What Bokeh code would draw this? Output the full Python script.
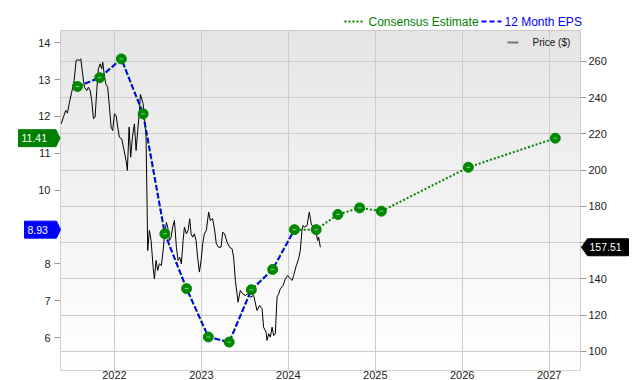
import numpy as np
from bokeh.plotting import figure
from bokeh.models import Range1d, LinearAxis, FixedTicker, Grid
from bokeh.core.properties import value
from bokeh.embed import file_html
from bokeh.resources import INLINE

# ---------------- data ----------------
years = [2022, 2023, 2024, 2025, 2026, 2027]
year_labels = ["2022", "2023", "2024", "2025", "2026", "2027"]
eps_ticks = [6, 7, 8, 9, 10, 11, 12, 13, 14]
price_ticks = [100, 120, 140, 160, 180, 200, 220, 240, 260]

# 12 Month EPS (historical)
eps_t = [2021.575, 2021.83, 2022.08, 2022.33, 2022.58, 2022.83, 2023.08,
         2023.32, 2023.575, 2023.82, 2024.07]
eps_v = [12.81, 13.05, 13.56, 12.07, 8.82, 7.33, 6.02, 5.88, 7.30, 7.85, 8.93]

# Consensus estimates (future)
est_t = [2024.32, 2024.57, 2024.82, 2025.07, 2026.07, 2027.07]
est_v = [8.93, 9.34, 9.52, 9.43, 10.62, 11.41]

# Price ($)
price_t = [2021.387, 2021.414, 2021.440, 2021.460, 2021.483, 2021.509, 2021.537, 2021.560,
           2021.578, 2021.598, 2021.613, 2021.632, 2021.655, 2021.682, 2021.701, 2021.721,
           2021.739, 2021.759, 2021.778, 2021.797, 2021.816, 2021.836, 2021.854, 2021.866,
           2021.882, 2021.900, 2021.923, 2021.943, 2021.962, 2021.980, 2022.000, 2022.020,
           2022.038, 2022.057, 2022.084, 2022.111, 2022.134, 2022.149, 2022.169, 2022.187,
           2022.207, 2022.230, 2022.249, 2022.268, 2022.287, 2022.299, 2022.330, 2022.345,
           2022.364, 2022.376, 2022.383, 2022.402, 2022.422, 2022.445, 2022.460, 2022.479,
           2022.498, 2022.517, 2022.540, 2022.560, 2022.578, 2022.598, 2022.613, 2022.632,
           2022.652, 2022.670, 2022.690, 2022.713, 2022.732, 2022.751, 2022.770, 2022.790,
           2022.805, 2022.828, 2022.847, 2022.866, 2022.882, 2022.900, 2022.920, 2022.939,
           2022.957, 2022.977, 2022.997, 2023.015, 2023.034, 2023.057, 2023.084, 2023.103,
           2023.130, 2023.153, 2023.172, 2023.199, 2023.226, 2023.245, 2023.268, 2023.295,
           2023.325, 2023.353, 2023.371, 2023.391, 2023.422, 2023.448, 2023.475, 2023.506,
           2023.532, 2023.563, 2023.601, 2023.640, 2023.670, 2023.698, 2023.716, 2023.744,
           2023.755, 2023.774, 2023.793, 2023.813, 2023.831, 2023.851, 2023.870, 2023.889,
           2023.908, 2023.939, 2023.966, 2023.992, 2024.023, 2024.043, 2024.061, 2024.092,
           2024.118, 2024.138, 2024.157, 2024.169, 2024.184, 2024.215, 2024.241, 2024.264,
           2024.291, 2024.322, 2024.337, 2024.349, 2024.368]
price_v = [225.6, 229.3, 233.0, 231.5, 237.5, 243.1, 249.5, 260.6,
           260.9, 260.6, 261.5, 254.1, 245.8, 244.0, 245.8, 244.0,
           238.5, 228.4, 229.3, 244.0, 256.0, 258.7, 256.0, 259.6,
           253.2, 247.7, 245.8, 234.8, 223.8, 221.9, 231.1, 230.2,
           223.8, 218.2, 217.4, 210.9, 205.4, 199.9, 223.8, 207.2,
           218.2, 225.6, 210.9, 221.9, 232.0, 241.8, 236.8, 229.3,
           218.2, 179.6, 155.7, 166.8, 161.2, 146.5, 140.1, 150.2,
           144.7, 148.4, 147.4, 155.7, 164.9, 171.3, 168.6, 161.2,
           163.1, 168.6, 172.3, 157.5, 150.2, 152.0, 148.4, 161.2,
           168.6, 164.9, 166.8, 173.2, 164.9, 163.1, 164.9, 161.2,
           152.0, 143.8, 150.2, 159.4, 164.9, 166.8, 176.9, 172.3,
           173.2, 166.8, 159.4, 157.5, 157.5, 165.8, 164.9, 160.3,
           157.5, 156.7, 152.0, 139.2, 127.2, 133.7, 131.8, 130.9,
           131.8, 130.0, 130.9, 122.6, 125.4, 123.6, 113.4, 110.6,
           106.1, 109.8, 107.9, 113.4, 108.8, 109.8, 130.0, 131.8,
           134.6, 136.4, 140.1, 141.9, 140.1, 139.2, 141.9, 147.4,
           151.1, 155.7, 166.8, 169.5, 168.6, 169.5, 176.9, 170.4,
           167.7, 164.9, 161.2, 163.1, 157.51]

# ---------------- figure ----------------
X0, X1 = 2021.38, 2027.36
Y0, Y1 = 5.11, 14.33
P0, P1 = 89.5, 277.1
FL, FT, FW, FH = 60.0, 30.0, 520.0, 340.0
FONT = "Liberation Sans"

p = figure(width=640, height=380, output_backend="svg", toolbar_location=None,
           x_range=Range1d(X0, X1), y_range=Range1d(Y0, Y1),
           x_axis_location=None,
           min_border_left=60, min_border_right=60, min_border_top=30, min_border_bottom=10)
p.extra_y_ranges = {"price": Range1d(P0, P1)}
p.background_fill_color = "white"
p.border_fill_color = "white"
p.outline_line_color = "#c4c4c4"
p.outline_line_width = 1
p.ygrid.visible = False

# gradient background
n = 256
frac = np.linspace(0.0, 1.0, n)
c = np.round(255 - frac * (255 - 229)).astype(np.uint8)
img = np.zeros((n, 1), dtype=np.uint32)
view = img.view(dtype=np.uint8).reshape((n, 1, 4))
view[:, 0, 0] = c
view[:, 0, 1] = c
view[:, 0, 2] = c
view[:, 0, 3] = 255
p.image_rgba(image=[img], x=X0, y=Y0, dw=X1 - X0, dh=Y1 - Y0, level="image")

# grids
p.add_layout(Grid(dimension=0, ticker=FixedTicker(ticks=years),
                  grid_line_color="#cccccc", grid_line_width=1))
p.add_layout(Grid(dimension=1, ticker=FixedTicker(ticks=price_ticks), y_range_name="price",
                  grid_line_color="#cccccc", grid_line_width=1))

# left axis
la = p.yaxis[0]
la.ticker = FixedTicker(ticks=eps_ticks)
la.axis_line_color = None
la.major_tick_out = 6
la.major_tick_in = 0
la.major_tick_line_color = "#999999"
la.minor_tick_line_color = None
la.major_label_standoff = 4
la.major_label_text_font = FONT
la.major_label_text_font_size = "11px"
la.major_label_text_color = "#222222"

# right axis
ra = LinearAxis(y_range_name="price", ticker=FixedTicker(ticks=price_ticks))
ra.axis_line_color = None
ra.major_tick_out = 6
ra.major_tick_in = 0
ra.major_tick_line_color = "#999999"
ra.minor_tick_line_color = None
ra.major_label_standoff = 2
ra.major_label_text_font = FONT
ra.major_label_text_font_size = "11px"
ra.major_label_text_color = "#222222"
p.add_layout(ra, "right")

# series
p.line(price_t, price_v, y_range_name="price", line_color="black", line_width=1)
all_t = eps_t + est_t
all_v = eps_v + est_v
p.line(all_t, all_v, line_color="#008000", line_width=2, line_dash="2 2")
p.line(eps_t, eps_v, line_color="#0000ff", line_width=2, line_dash="5 3")
p.scatter(all_t, all_v, size=10, fill_color="#008800", line_color="#008800")
p.scatter(all_t, all_v, marker="dash", size=4, line_color="white", line_width=1, line_alpha=0.55)

# helpers: canvas pixel -> data (for decorations outside the plot frame)
def dx(cx):
    return X0 + (cx - FL) * (X1 - X0) / FW

def dy(cy):
    return Y1 - (cy - FT) * (Y1 - Y0) / FH

# year labels below the frame
p.text(x=years, y=[Y0] * len(years), text=year_labels, y_offset=0,
       text_align="center", text_baseline="top", text_font=value(FONT),
       text_font_size="11px", text_color="#222222", level="overlay")

# legend (drawn as overlay glyphs)
p.segment(x0=[dx(344)], y0=[dy(21)], x1=[dx(362)], y1=[dy(21)], line_color="#008000",
          line_width=2, line_dash="2 2", level="overlay")
p.text(x=[dx(368)], y=[dy(21)], text=["Consensus Estimate"], text_baseline="middle",
       text_font=value(FONT), text_font_size="12px", text_color="#008000", level="overlay")
p.segment(x0=[dx(481)], y0=[dy(21)], x1=[dx(501)], y1=[dy(21)], line_color="#0000ff",
          line_width=2, line_dash="5 3", level="overlay")
p.text(x=[dx(504)], y=[dy(21)], text=["12 Month EPS"], text_baseline="middle",
       text_font=value(FONT), text_font_size="12px", text_color="#0000ff", level="overlay")
p.segment(x0=[dx(507)], y0=[dy(42)], x1=[dx(518)], y1=[dy(42)], line_color="#777777",
          line_width=2, level="overlay")
p.text(x=[dx(532)], y=[dy(42)], text=["Price ($)"], text_baseline="middle",
       text_font=value(FONT), text_font_size="10px", text_color="#111111", level="overlay")

# value tags
def tag(v, lo, hi, side, color, text, box, range_name="default"):
    hh = 8.5 * (hi - lo) / FH
    if side == "left":
        xl, xr, xt = box
        xs = [dx(xl), dx(xr), dx(xt), dx(xr), dx(xl)]
        ys = [v + hh, v + hh, v, v - hh, v - hh]
        tx = xl + 3
    else:
        xt, xl, xr = box
        xs = [dx(xt), dx(xl), dx(xr), dx(xr), dx(xl)]
        ys = [v, v + hh, v + hh, v - hh, v - hh]
        tx = xl + 2
    p.patch(xs, ys, fill_color=color, line_color=color, y_range_name=range_name, level="overlay")
    p.text(x=[dx(tx)], y=[v], text=[text], text_align="left",
           text_baseline="middle", text_font=value(FONT), text_font_size="10.5px",
           text_color="white", y_range_name=range_name, level="overlay")

tag(est_v[-1], Y0, Y1, "left", "#008000", f"{est_v[-1]:.2f}", (18, 55.5, 59.5))
tag(eps_v[-1], Y0, Y1, "left", "#0000ff", f"{eps_v[-1]:.2f}", (24, 56, 60))
tag(price_v[-1], P0, P1, "right", "#000000", f"{price_v[-1]:.2f}", (581, 587, 628), "price")

open("out.html", "w").write(file_html(p, INLINE))
